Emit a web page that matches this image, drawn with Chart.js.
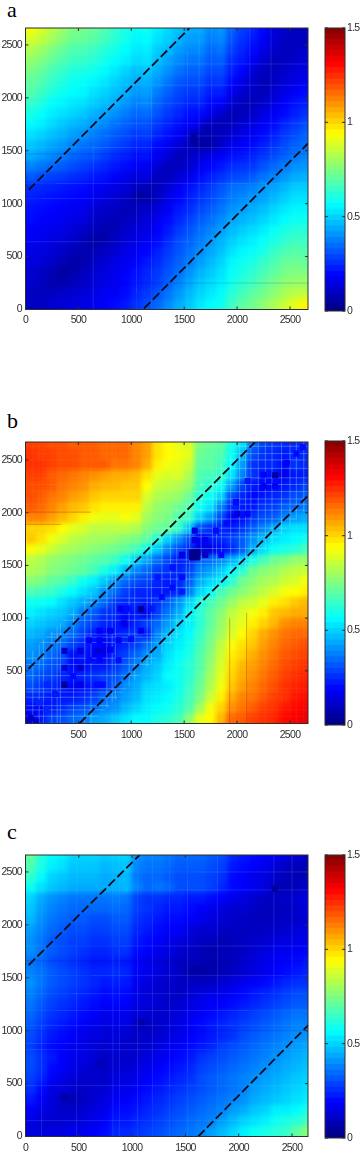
<!DOCTYPE html>
<html>
<head>
<meta charset="utf-8">
<script src="https://cdn.jsdelivr.net/npm/chart.js@4"></script>
<style>
  html, body { margin: 0; background: #fff; }
  body { position: relative; width: 363px; height: 1151px; overflow: hidden; }
  canvas { position: absolute; }
  .letter { position: absolute; left: 7px; font: 22px/22px "Liberation Serif", serif; color: #000; }
  .heat { position: absolute; overflow: hidden; left: 25px; width: 283px; }
  .soft { filter: blur(0.35px); }
</style>
</head>
<body>
<div class="letter" style="top:-1px">a</div>
<div class="letter" style="top:410px">b</div>
<div class="letter" style="top:821px">c</div>

<div class="heat" style="top:28px;height:282px"><canvas id="heat-a" width="303" height="302" style="left:-10px;top:-10px;filter:blur(2.6px)"></canvas></div>
<canvas id="axes-a" class="soft" width="320" height="315" style="left:0;top:22px"></canvas>
<canvas id="bar-a" class="soft" width="63" height="295" style="left:300px;top:22px"></canvas>

<div class="heat" style="top:442px;height:282px"><canvas id="heat-b" width="303" height="302" style="left:-10px;top:-10px;filter:blur(2.2px)"></canvas></div>
<canvas id="axes-b" class="soft" width="320" height="310" style="left:0;top:436px"></canvas>
<canvas id="bar-b" class="soft" width="63" height="296" style="left:300px;top:435px"></canvas>

<div class="heat" style="top:855px;height:282px"><canvas id="heat-c" width="303" height="302" style="left:-10px;top:-10px;filter:blur(2.6px)"></canvas></div>
<canvas id="axes-c" class="soft" width="320" height="302" style="left:0;top:849px"></canvas>
<canvas id="bar-c" class="soft" width="63" height="295" style="left:300px;top:849px"></canvas>
<script>
// values in hundredths, rows run top (y=2650) to bottom (y=50), columns x=50..2650
const cellSize = 100;

const panelA = [
  [93,88,84,79,75,73,71,68,64,60,57,58,54,51,47,44,44,39,41,33,28,24,19,14,11,10,9],
  [88,85,80,76,72,71,69,66,62,59,55,56,52,49,45,42,42,37,39,31,26,22,17,13,10,9,10],
  [82,79,75,71,68,67,65,62,59,56,53,54,49,46,42,39,39,34,36,28,24,20,15,11,9,10,11],
  [78,75,71,68,65,64,62,59,56,54,51,52,47,43,39,36,36,32,33,25,22,17,12,9,10,11,13],
  [74,71,67,64,61,60,58,56,53,50,47,48,44,40,36,33,33,29,30,23,19,13,9,9,11,13,15],
  [71,68,64,61,58,57,55,53,50,47,44,45,41,36,32,30,30,26,27,20,15,11,8,10,13,15,17],
  [69,65,61,58,56,55,52,50,47,44,41,42,37,33,29,27,27,23,23,16,12,10,9,12,15,18,20],
  [64,61,57,55,53,52,49,47,44,41,38,39,34,30,27,24,24,20,19,12,9,8,11,14,18,21,23],
  [60,57,54,52,50,48,45,43,40,37,34,35,31,27,24,21,20,15,12,8,9,11,14,17,20,23,26],
  [56,54,51,48,46,44,41,39,36,33,31,31,27,24,21,18,15,10,8,9,12,14,17,20,24,27,30],
  [52,50,47,45,42,40,37,35,32,30,27,28,24,21,17,12,7,7,9,12,15,17,20,23,27,30,33],
  [48,46,43,41,38,36,34,32,29,27,24,24,20,17,13,9,5,6,11,16,18,20,23,26,30,33,35],
  [44,42,39,37,34,32,31,28,25,23,21,21,17,13,9,10,13,15,18,21,22,24,27,30,33,36,38],
  [38,36,34,32,30,28,26,24,22,20,17,17,13,9,9,12,16,19,22,25,26,27,31,34,37,40,41],
  [32,30,28,27,25,24,22,21,18,16,13,14,9,9,13,16,20,23,26,29,30,32,36,38,41,44,45],
  [25,24,23,22,21,20,18,17,15,13,10,8,9,13,17,21,24,27,31,35,36,38,41,43,46,49,49],
  [23,22,21,20,19,18,16,14,12,10,7,6,10,15,19,23,26,29,33,37,39,41,43,46,49,52,52],
  [21,20,19,18,17,16,13,11,10,8,9,11,13,17,22,25,29,32,36,40,42,44,47,50,53,55,55],
  [20,19,18,17,15,14,11,9,8,9,11,13,16,20,24,28,32,35,39,43,45,47,50,53,56,58,58],
  [18,17,16,15,13,11,8,7,8,11,13,15,18,22,27,31,35,38,42,46,49,51,54,57,60,62,62],
  [17,16,14,13,11,8,6,7,10,13,15,17,20,25,30,33,37,41,45,49,52,54,57,60,63,65,65],
  [15,14,13,11,8,7,8,10,12,15,17,19,23,27,31,35,39,43,47,52,55,57,60,64,67,69,68],
  [14,13,11,8,6,7,10,12,15,17,19,22,25,29,33,37,42,46,50,55,58,60,64,67,71,72,71],
  [12,10,8,5,7,9,12,14,16,18,21,24,27,31,35,40,45,48,52,57,60,63,67,70,74,75,75],
  [12,10,7,7,9,11,13,15,17,19,22,25,28,33,38,43,48,51,54,59,63,66,70,74,77,79,79],
  [10,9,10,11,12,13,15,17,18,20,24,27,31,36,41,46,50,53,56,62,66,70,73,77,81,84,85],
  [10,10,12,13,14,15,16,18,20,22,26,30,34,39,44,48,53,56,58,65,70,73,77,81,86,90,95]
];

const panelB = [
  [122,122,120,120,118,118,118,116,116,116,112,108,98,94,90,88,74,72,70,60,52,34,28,26,24,24,26],
  [124,122,122,120,120,118,118,116,116,116,112,108,98,94,92,90,72,70,68,58,46,30,26,24,22,24,24],
  [124,124,122,120,120,118,118,118,114,114,112,106,96,92,90,86,70,70,66,56,42,26,24,24,20,26,24],
  [122,122,118,116,114,112,110,108,106,106,104,98,90,88,88,82,68,66,64,52,38,26,22,20,16,22,22],
  [120,120,118,114,112,110,106,104,104,102,102,94,86,84,82,78,66,62,58,42,28,22,18,20,22,24,28],
  [120,118,114,112,108,106,102,100,100,100,100,88,82,80,78,72,62,58,50,30,24,20,22,24,26,30,32],
  [118,116,112,108,104,102,98,96,96,96,96,84,78,76,72,68,58,52,38,24,22,22,26,28,32,34,36],
  [112,112,108,104,100,96,92,90,90,92,90,80,76,74,68,64,50,42,30,18,20,26,30,32,38,42,44],
  [100,100,98,94,90,88,84,84,84,84,82,76,72,70,64,48,30,26,24,22,26,32,38,44,50,52,52],
  [102,98,92,88,84,82,80,80,78,76,74,70,62,50,40,30,18,22,24,28,32,40,46,52,54,56,58],
  [94,90,86,82,80,78,76,74,72,70,66,58,48,38,30,24,14,14,20,24,32,44,52,58,60,62,66],
  [84,82,78,76,74,72,70,68,64,58,50,42,34,28,22,24,32,34,38,44,50,60,66,72,74,78,78],
  [82,80,76,74,72,70,66,60,54,46,38,34,28,26,24,28,38,42,48,56,62,72,76,78,82,84,86],
  [76,74,70,68,64,58,54,48,40,34,30,28,24,22,24,32,44,50,54,62,72,76,80,82,86,88,92],
  [68,66,64,60,56,52,48,40,34,28,24,24,22,22,26,36,50,56,66,72,76,80,84,88,92,94,96],
  [58,58,56,52,48,44,40,34,26,24,24,22,26,32,40,50,60,66,72,78,84,86,90,96,98,102,104],
  [54,52,50,48,44,36,32,26,24,20,22,16,28,36,44,54,62,70,76,84,88,92,96,102,104,106,106],
  [50,48,46,44,38,32,28,24,22,18,24,28,34,42,50,54,62,70,78,86,90,96,100,104,110,112,112],
  [46,44,40,38,34,28,22,20,22,24,26,22,38,46,52,56,64,72,80,88,94,100,106,110,114,116,116],
  [42,40,36,34,28,24,20,18,22,24,28,34,42,50,54,58,66,74,84,92,98,102,108,112,116,118,120],
  [40,38,34,30,20,22,18,18,24,28,34,40,44,52,56,60,68,76,86,96,100,106,110,114,118,120,122],
  [36,34,30,28,20,20,22,22,26,32,38,44,48,54,58,62,68,78,88,98,104,108,112,116,120,122,124],
  [34,30,28,24,22,24,26,28,30,36,42,46,50,56,58,62,70,80,90,100,106,110,114,118,122,124,126],
  [30,26,24,22,18,20,22,26,32,40,44,50,52,54,58,64,72,82,92,102,108,112,116,120,124,126,128],
  [24,24,22,22,22,24,28,34,38,42,46,52,54,56,60,66,74,86,96,106,112,114,118,122,124,128,130],
  [20,18,22,24,28,30,34,38,40,46,50,54,56,58,62,68,80,92,100,110,114,118,122,124,128,130,132],
  [14,22,28,30,34,36,42,44,48,52,56,56,60,62,66,76,90,94,104,116,118,122,124,126,130,132,134]
];

const panelC = [
  [72,62,56,54,50,50,50,48,49,50,40,38,38,36,34,34,34,32,30,24,22,20,18,16,14,12,10],
  [68,60,54,52,48,48,48,46,47,48,38,36,36,34,32,32,32,30,28,22,20,18,16,13,10,9,8],
  [64,56,50,48,46,46,46,44,45,46,36,34,34,32,30,30,30,28,26,20,18,16,14,11,8,8,9],
  [58,52,48,46,44,44,44,44,45,46,38,34,36,34,30,30,30,28,24,20,18,16,14,8,8,9,12],
  [50,44,40,38,36,36,36,36,37,36,28,26,26,24,24,22,22,20,18,16,14,12,10,10,11,12,16],
  [48,42,38,36,34,34,34,34,35,34,28,26,24,22,22,20,18,16,14,12,12,10,9,9,10,11,14],
  [46,40,36,34,32,32,30,30,32,32,26,24,22,20,20,18,16,14,12,11,10,9,9,10,10,11,14],
  [42,38,34,32,30,30,28,28,30,30,24,22,20,18,18,14,12,12,10,10,10,10,10,11,12,13,15],
  [40,36,32,30,28,28,26,26,28,28,22,20,18,16,14,12,10,9,8,9,10,11,12,14,14,15,17],
  [40,36,32,30,28,26,24,24,26,26,20,18,16,14,12,10,8,7,8,9,10,12,14,16,16,17,19],
  [36,34,30,28,26,24,22,22,23,22,18,16,14,12,10,9,8,7,8,9,12,14,16,18,19,20,22],
  [38,36,32,30,28,26,24,24,25,24,18,16,14,12,10,7,6,7,8,10,12,14,16,18,20,22,24],
  [40,36,32,30,28,26,24,22,23,22,16,14,12,11,10,10,10,10,12,14,16,18,20,22,24,26,26],
  [38,34,30,28,26,24,22,20,21,20,15,13,12,11,10,12,14,15,16,18,20,22,24,26,28,30,30],
  [36,32,28,26,24,22,20,18,19,18,14,13,12,11,12,14,16,18,18,20,22,24,26,28,30,32,32],
  [34,30,26,24,22,20,18,16,17,16,13,12,11,12,14,16,18,20,22,24,26,28,30,32,34,36,36],
  [32,28,24,22,20,18,16,14,15,14,10,9,11,13,15,18,20,22,24,26,28,30,32,34,36,38,38],
  [30,26,22,20,18,16,14,13,14,12,11,11,12,14,16,18,20,22,24,26,30,32,34,36,38,40,40],
  [28,24,20,18,16,15,13,12,13,11,11,12,14,16,18,20,22,24,28,30,32,34,36,38,40,42,44],
  [30,26,22,18,16,15,12,10,12,11,12,14,16,18,20,22,26,28,30,32,34,36,38,40,42,44,46],
  [30,26,20,18,15,13,11,10,12,12,14,16,18,20,22,24,28,30,32,34,36,38,40,42,44,46,48],
  [28,24,18,15,13,11,11,11,14,14,16,18,20,22,24,26,30,32,34,36,38,40,42,44,46,48,50],
  [26,20,15,13,11,11,12,12,16,16,18,20,22,24,26,28,30,32,34,36,38,42,44,46,48,50,52],
  [22,18,13,10,8,10,12,14,18,18,20,22,24,26,28,30,32,34,36,38,40,44,46,48,50,52,54],
  [18,15,13,11,11,12,14,16,20,20,22,24,26,28,30,32,34,36,38,42,44,48,50,54,54,56,60],
  [15,13,12,12,13,14,16,18,22,22,24,26,28,30,32,34,36,38,42,46,50,52,54,58,60,62,66],
  [13,13,14,14,16,16,18,20,24,24,26,28,30,32,34,36,38,42,46,50,54,58,60,62,64,70,76]
];

// dashed guide lines, [x0, y0, x1, y1]
const linesA = [[30, 1130, 1550, 2660], [1120, 10, 2670, 1570]];
const linesB = [[30, 520, 2170, 2670], [510, 1, 2670, 2160]];
const linesC = [[30, 1620, 1070, 2660], [1620, 0, 2650, 1050]];

// pale stripes at these positions, crossing the plot both ways near the diagonal
const stripesA = [640, 1050, 1190, 1530, 1640, 1760, 1950, 2120, 2320];
const stripesB = [
  70, 130, 170, 250, 300, 330, 455, 561, 620, 770, 820, 850, 980, 1033, 1150, 1190, 1290, 1370, 1430,
  1520, 1552, 1660, 1770, 1806, 1853, 1940, 2024, 2080, 2130, 2200, 2267, 2330, 2420, 2500, 2560, 2630
];
const stripesC = [150, 480, 820, 880, 1050, 1190, 1350, 1520, 1800, 2330, 2500];

// thin darker streaks, [x0, y0, x1, y1]
const streaksA = [[0, 250, 2670, 250], [0, 1470, 2670, 1470]];
const streaksB = [[1930, 0, 1930, 1000], [2090, 0, 2090, 1050], [0, 2005, 620, 2005], [0, 1890, 340, 1890]];
const streaksC = [[0, 1000, 2650, 1000], [0, 1660, 2650, 1660]];

// dark patches, [x, y, value]
const spotsA = [[370, 370, 0.04], [1090, 1085, 0.04], [1590, 1590, 0.05], [1590, 1640, 0.06], [1710, 1720, 0.07], [700, 700, 0.07]];
const spotsB = [
  [1575, 1575, 0.02], [1625, 1575, 0.02], [1575, 1625, 0.02], [1625, 1625, 0.02], [1700, 1600, 0.1],
  [1480, 1600, 0.15], [1600, 1740, 0.16], [1600, 1830, 0.14], [2000, 1990, 0.14], [2360, 2355, 0.05],
  [1090, 1085, 0.03], [1090, 880, 0.16], [900, 1090, 0.16], [960, 1090, 0.2], [930, 950, 0.15],
  [370, 370, 0.03], [520, 370, 0.14], [680, 370, 0.2], [730, 370, 0.2], [370, 530, 0.13], [520, 530, 0.1],
  [370, 690, 0.11], [520, 690, 0.13], [680, 690, 0.13], [730, 690, 0.14], [50, 50, 0.1], [100, 20, 0.12],
  [600, 790, 0.18], [700, 790, 0.17], [800, 700, 0.18], [880, 790, 0.17], [700, 880, 0.18], [800, 880, 0.17],
  [600, 600, 0.2], [700, 600, 0.19], [880, 600, 0.2], [450, 450, 0.2], [200, 370, 0.24], [280, 280, 0.22],
  [130, 200, 0.24], [200, 130, 0.24], [1000, 800, 0.2], [1200, 1090, 0.22], [1290, 1200, 0.2], [1390, 1290, 0.2],
  [1480, 1390, 0.2], [1390, 1480, 0.21], [1250, 1390, 0.22], [1480, 1250, 0.22], [1850, 1600, 0.2], [1800, 1830, 0.2],
  [1700, 1740, 0.18], [1900, 1900, 0.2], [2100, 1990, 0.19], [1990, 2100, 0.2], [2170, 2170, 0.2], [2250, 2250, 0.18],
  [2360, 2250, 0.18], [2250, 2360, 0.19], [2470, 2470, 0.18], [2560, 2560, 0.2], [2620, 2620, 0.2], [2100, 2300, 0.22]
];
const spotsC = [[370, 370, 0.05], [1085, 1080, 0.05], [1580, 1590, 0.05], [1650, 1590, 0.06], [2340, 2340, 0.06], [700, 700, 0.08]];

const ticksWithZero = [0, 500, 1000, 1500, 2000, 2500];
const ticksNoZero = [500, 1000, 1500, 2000, 2500];
const colorbarTicks = [0, 0.5, 1, 1.5];
const colorbarStep = 0.03;
const colorbarLevels = [
  0, 0.03, 0.06, 0.09, 0.12, 0.15, 0.18, 0.21, 0.24, 0.27,
  0.3, 0.33, 0.36, 0.39, 0.42, 0.45, 0.48, 0.51, 0.54, 0.57,
  0.6, 0.63, 0.66, 0.69, 0.72, 0.75, 0.78, 0.81, 0.84, 0.87,
  0.9, 0.93, 0.96, 0.99, 1.02, 1.05, 1.08, 1.11, 1.14, 1.17,
  1.2, 1.23, 1.26, 1.29, 1.32, 1.35, 1.38, 1.41, 1.44, 1.47
];

const AXIS_COLOR = '#2e2e2e';
const TICK_FONT = { family: '"Liberation Sans", Arial, sans-serif', size: 10.5 };

// matlab jet, on a 0..1.5 colour range
const jet = (value) => {
  const t = Math.min(1, Math.max(0, value / 1.5));
  const ramp = (c) => Math.round(255 * Math.min(1, Math.max(0, 1.5 - Math.abs(4 * t - c))));
  return `rgb(${ramp(3)}, ${ramp(2)}, ${ramp(1)})`;
};

// the source digits are narrower than the installed fonts
const tightLabels = {
  id: 'tightLabels',
  beforeDraw(chart) {
    chart.ctx.letterSpacing = '-0.7px';
  },
};

// the edge labels would otherwise push the plot in from the layout padding
const dropLabelPadding = (scale) => {
  scale.paddingTop = 0;
  scale.paddingBottom = 0;
  scale.paddingLeft = 0;
  scale.paddingRight = 0;
};

// box round the plot, with the short ticks pointing inwards on all four sides
const insideTicks = {
  id: 'insideTicks',
  afterDatasetsDraw(chart) {
    const { ctx, chartArea: area, scales } = chart;
    ctx.save();
    ctx.strokeStyle = AXIS_COLOR;
    ctx.lineWidth = 1;
    ctx.strokeRect(area.left, area.top, area.right - area.left, area.bottom - area.top);
    ctx.beginPath();
    if (scales.x.type === 'linear') {
      scales.x.ticks.forEach((tick) => {
        const px = scales.x.getPixelForValue(tick.value);
        ctx.moveTo(px, area.bottom);
        ctx.lineTo(px, area.bottom - 3);
        ctx.moveTo(px, area.top);
        ctx.lineTo(px, area.top + 3);
      });
    }
    scales.y.ticks.forEach((tick) => {
      const py = scales.y.getPixelForValue(tick.value);
      ctx.moveTo(area.left, py);
      ctx.lineTo(area.left + 3, py);
      ctx.moveTo(area.right, py);
      ctx.lineTo(area.right - 3, py);
    });
    ctx.stroke();
    ctx.restore();
  },
};

const cellRadius = (chart, grow) => {
  const x = chart.scales.x;
  // radius of a rect point is half its diagonal
  return (Math.abs(x.getPixelForValue(cellSize) - x.getPixelForValue(0)) * grow + 0.8) * Math.SQRT1_2;
};

const buildHeatConfig = (rows, range) => {
  const cells = [];
  rows.forEach((row, r) => {
    row.forEach((value, c) => {
      cells.push({ x: cellSize * c + cellSize / 2, y: cellSize * (rows.length - 1 - r) + cellSize / 2, v: value / 100 });
    });
  });
  const cellSet = (grow) => ({
    data: cells,
    pointStyle: 'rect',
    pointBorderWidth: 0,
    pointBackgroundColor: (ctx) => jet(ctx.raw.v),
    pointRadius: (ctx) => cellRadius(ctx.chart, grow),
    clip: false,
  });
  return {
    type: 'scatter',
    // the wider copy underneath only shows outside the plot, it keeps the blur from fading at the edges
    data: { datasets: [cellSet(1), cellSet(2.4)] },
    options: {
      responsive: false,
      animation: false,
      events: [],
      layout: { padding: { top: 10, right: 10, left: 10.5, bottom: 10 } },
      plugins: { legend: { display: false }, tooltip: { enabled: false } },
      scales: {
        x: { type: 'linear', min: range.xMin, max: range.xMax, display: false },
        y: { type: 'linear', min: range.yMin, max: range.yMax, display: false },
      },
    },
  };
};

const buildAxesConfig = (lines, stripes, streaks, spots, range) => {
  const lineSet = (segment, color, width, dash) => ({
    data: [{ x: segment[0], y: segment[1] }, { x: segment[2], y: segment[3] }],
    showLine: true,
    borderColor: color,
    borderWidth: width,
    borderDash: dash,
    pointRadius: 0,
    clip: 0,
  });
  const near = [];
  const across = [];
  stripes.forEach((at) => {
    const from = Math.max(range.yMin, at - range.reach);
    const to = Math.min(range.yMax, at + range.reach);
    near.push([at, from, at, to], [from, at, to, at]);
    across.push([at, range.yMin, at, range.yMax], [range.xMin, at, range.xMax, at]);
  });
  return {
    type: 'scatter',
    data: {
      datasets: [
        ...lines.map((line) => lineSet(line, '#0a0a14', 1.8, [9, 3.5])),
        {
          data: spots.map((s) => ({ x: s[0], y: s[1], v: s[2] })),
          pointStyle: 'rect',
          pointBorderWidth: 0,
          pointBackgroundColor: (ctx) => jet(ctx.raw.v),
          pointRadius: (ctx) => cellRadius(ctx.chart, 0.5),
          clip: 0,
        },
        ...streaks.map((streak) => lineSet(streak, range.streakColor, 1, [])),
        ...near.map((segment) => lineSet(segment, range.stripeColor, 1, [])),
        ...across.map((segment) => lineSet(segment, range.faintColor, 1, [])),
      ],
    },
    options: {
      responsive: false,
      animation: false,
      events: [],
      layout: { padding: { top: 6, right: 12, left: 0, bottom: 0 } },
      plugins: { legend: { display: false }, tooltip: { enabled: false } },
      scales: {
        x: {
          type: 'linear',
          min: range.xMin,
          max: range.xMax,
          grid: { display: false, drawTicks: false },
          border: { display: false },
          afterBuildTicks: (scale) => { scale.ticks = range.xTicks.map((value) => ({ value })); },
          afterFit: (scale) => { scale.height = range.bottom; dropLabelPadding(scale); },
          ticks: { color: AXIS_COLOR, font: TICK_FONT, padding: range.labelGap, maxRotation: 0, autoSkip: false, callback: (value) => String(value) },
        },
        y: {
          type: 'linear',
          min: range.yMin,
          max: range.yMax,
          grid: { display: false, drawTicks: false },
          border: { display: false },
          afterBuildTicks: (scale) => { scale.ticks = range.yTicks.map((value) => ({ value })); },
          afterFit: (scale) => { scale.width = 25.5; dropLabelPadding(scale); },
          ticks: { color: AXIS_COLOR, font: TICK_FONT, padding: 3.5, autoSkip: false, callback: (value) => String(value) },
        },
      },
    },
    plugins: [tightLabels, insideTicks],
  };
};

const buildBarConfig = () => ({
  type: 'bar',
  data: {
    labels: ['range'],
    datasets: colorbarLevels.map((level) => ({
      data: [colorbarStep],
      backgroundColor: jet(level + colorbarStep / 2),
      barPercentage: 1,
      categoryPercentage: 1,
      inflateAmount: 0.4,
    })),
  },
  options: {
    responsive: false,
    animation: false,
    events: [],
    layout: { padding: { top: 6, right: 0, left: 25, bottom: 6 } },
    plugins: { legend: { display: false }, tooltip: { enabled: false } },
    scales: {
      x: { stacked: true, display: false },
      y: {
        stacked: true,
        position: 'right',
        min: 0,
        max: 1.5,
        grid: { display: false, drawTicks: false },
        border: { display: false },
        afterBuildTicks: (scale) => { scale.ticks = colorbarTicks.map((value) => ({ value })); },
        afterFit: (scale) => { scale.width = 18; dropLabelPadding(scale); },
        ticks: { color: AXIS_COLOR, font: TICK_FONT, padding: 2, autoSkip: false, callback: (value) => String(value) },
      },
    },
  },
  plugins: [tightLabels, insideTicks],
});

const rangeA = {
  xMin: 0, xMax: 2670, yMin: 0, yMax: 2660, xTicks: ticksWithZero, yTicks: ticksWithZero, bottom: 27.5, labelGap: 4, reach: 900,
  stripeColor: 'rgba(190, 255, 255, 0.08)', faintColor: 'rgba(190, 255, 255, 0.06)', streakColor: 'rgba(0, 0, 120, 0.16)',
};
const rangeB = {
  xMin: 1, xMax: 2670, yMin: 1, yMax: 2670, xTicks: ticksNoZero, yTicks: ticksNoZero, bottom: 22.5, labelGap: 5, reach: 620,
  stripeColor: 'rgba(170, 255, 230, 0.28)', faintColor: 'rgba(255, 255, 200, 0.05)', streakColor: 'rgba(190, 50, 0, 0.4)',
};
const rangeC = {
  xMin: 0, xMax: 2650, yMin: 0, yMax: 2660, xTicks: ticksWithZero, yTicks: ticksWithZero, bottom: 14.5, labelGap: 5, reach: 900,
  stripeColor: 'rgba(170, 240, 255, 0.07)', faintColor: 'rgba(170, 240, 255, 0.08)', streakColor: 'rgba(0, 0, 120, 0.15)',
};

new Chart(document.getElementById('heat-a'), buildHeatConfig(panelA, rangeA));
new Chart(document.getElementById('axes-a'), buildAxesConfig(linesA, stripesA, streaksA, spotsA, rangeA));
new Chart(document.getElementById('bar-a'), buildBarConfig());

new Chart(document.getElementById('heat-b'), buildHeatConfig(panelB, rangeB));
new Chart(document.getElementById('axes-b'), buildAxesConfig(linesB, stripesB, streaksB, spotsB, rangeB));
new Chart(document.getElementById('bar-b'), buildBarConfig());

new Chart(document.getElementById('heat-c'), buildHeatConfig(panelC, rangeC));
new Chart(document.getElementById('axes-c'), buildAxesConfig(linesC, stripesC, streaksC, spotsC, rangeC));
new Chart(document.getElementById('bar-c'), buildBarConfig());
</script>
</body>
</html>
